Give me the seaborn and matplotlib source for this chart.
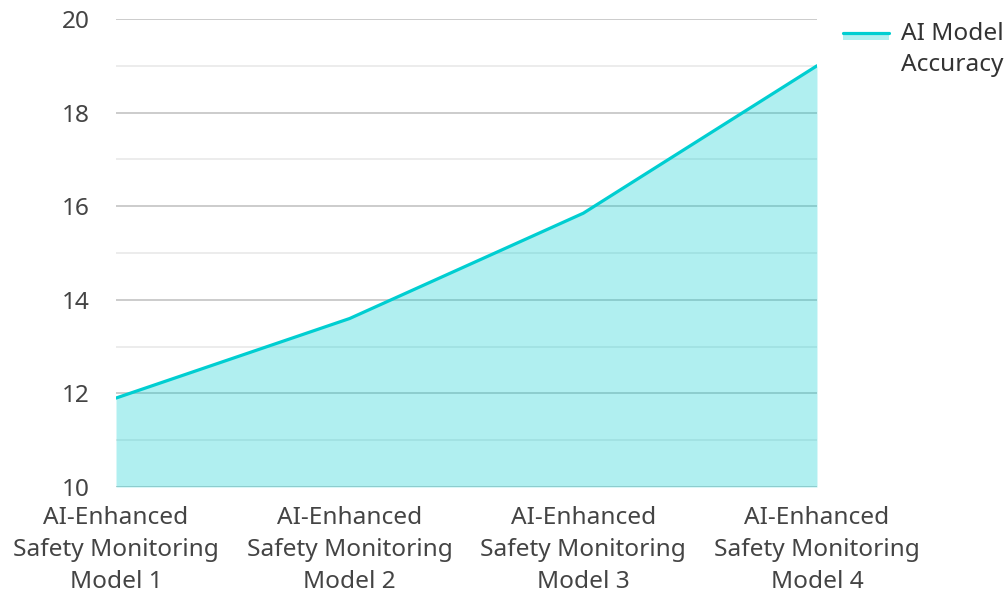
import matplotlib
matplotlib.use("Agg")
import matplotlib.pyplot as plt
import seaborn as sns
import pandas as pd
from matplotlib.legend_handler import HandlerBase
from matplotlib.patches import Rectangle
from matplotlib.lines import Line2D
from matplotlib.ticker import MultipleLocator

# Data
categories = [
    "AI-Enhanced\nSafety Monitoring\nModel 1",
    "AI-Enhanced\nSafety Monitoring\nModel 2",
    "AI-Enhanced\nSafety Monitoring\nModel 3",
    "AI-Enhanced\nSafety Monitoring\nModel 4",
]
accuracy = [11.9, 13.6, 15.85, 19.0]
series_name = "AI Model\nAccuracy"
y_ticks = [10, 12, 14, 16, 18, 20]

LINE_COLOR = "#00CED1"
FILL_ALPHA = 0.31
TEXT_COLOR = "#444444"
FONT_SIZE = 17.6

sns.set_theme(style="white")
plt.rcParams["font.family"] = ["Noto Sans", "DejaVu Sans"]

df = pd.DataFrame({"pos": range(len(categories)), "value": accuracy})

fig = plt.figure(figsize=(10.07, 5.91), dpi=100)
ax = fig.add_axes([0.1152, 0.176, 0.6961, 0.7919])

# Grid lines first, area on top
ax.set_axisbelow(True)
ax.yaxis.set_major_locator(MultipleLocator(2))
ax.yaxis.set_minor_locator(MultipleLocator(1))
ax.grid(axis="y", which="major", color="#c8c8c8", linewidth=1.3)
ax.grid(axis="y", which="minor", color="#ebebeb", linewidth=1.3)
ax.grid(axis="x", visible=False)

ax.fill_between(df["pos"], df["value"], 10, color=LINE_COLOR, alpha=FILL_ALPHA,
                linewidth=0, zorder=2)
sns.lineplot(data=df, x="pos", y="value", ax=ax, color=LINE_COLOR, linewidth=2.3,
             zorder=3, legend=False)

ax.set_xlim(0, len(categories) - 1)
ax.set_ylim(10, 20)
ax.set_xticks(range(len(categories)))
ax.set_xticklabels(categories, fontsize=FONT_SIZE, color=TEXT_COLOR, linespacing=1.43)
ax.set_yticks(y_ticks)
ax.set_yticklabels([str(v) for v in y_ticks], fontsize=FONT_SIZE, color=TEXT_COLOR)
ax.tick_params(axis="y", which="both", length=3, color="#c8c8c8", pad=16)
ax.tick_params(axis="y", which="minor", color="#ebebeb")
ax.tick_params(axis="x", length=0, pad=14)
ax.set_xlabel("")
ax.set_ylabel("")
for spine in ax.spines.values():
    spine.set_visible(False)


class AreaHandler(HandlerBase):
    def create_artists(self, legend, orig_handle, xdescent, ydescent, width,
                       height, fontsize, trans):
        top = -ydescent + height * 1.49
        rect = Rectangle((-xdescent, top - height * 0.45), width, height * 0.45,
                         facecolor=LINE_COLOR, alpha=FILL_ALPHA, linewidth=0,
                         transform=trans)
        line = Line2D([-xdescent, -xdescent + width], [top, top],
                      color=LINE_COLOR, linewidth=2.3, transform=trans)
        return [rect, line]


handle = Rectangle((0, 0), 1, 1)
leg = fig.legend([handle], [series_name], handler_map={Rectangle: AreaHandler()},
                 loc="upper left", bbox_to_anchor=(0.837, 0.9635), frameon=False,
                 fontsize=FONT_SIZE, handlelength=1.9, handletextpad=0.48,
                 borderpad=0, borderaxespad=0, labelcolor="#333333")
for t in leg.get_texts():
    t.set_linespacing(1.4)

fig.savefig("out.png", dpi=100)
